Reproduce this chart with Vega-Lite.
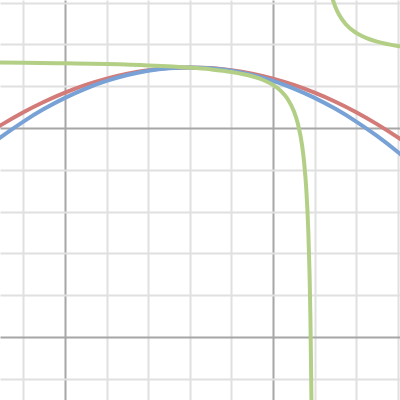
{
  "$schema": "https://vega.github.io/schema/vega-lite/v6.json",
  "autosize": {"type": "fit", "contains": "padding"},
  "width": 400,
  "height": 400,
  "padding": 0,
  "background": "white",
  "config": {"view": {"stroke": null}},
  "datasets": {
    "curves": [
      {"curve": "red", "branch": "a", "x": -2, "y": 4.775},
      {"curve": "red", "branch": "a", "x": -1.5, "y": 5.093},
      {"curve": "red", "branch": "a", "x": -1, "y": 5.378},
      {"curve": "red", "branch": "a", "x": -0.5, "y": 5.629},
      {"curve": "red", "branch": "a", "x": 0, "y": 5.847},
      {"curve": "red", "branch": "a", "x": 0.5, "y": 6.031},
      {"curve": "red", "branch": "a", "x": 1, "y": 6.182},
      {"curve": "red", "branch": "a", "x": 1.5, "y": 6.299},
      {"curve": "red", "branch": "a", "x": 2, "y": 6.383},
      {"curve": "red", "branch": "a", "x": 2.5, "y": 6.433},
      {"curve": "red", "branch": "a", "x": 3, "y": 6.45},
      {"curve": "red", "branch": "a", "x": 3.5, "y": 6.433},
      {"curve": "red", "branch": "a", "x": 4, "y": 6.383},
      {"curve": "red", "branch": "a", "x": 4.5, "y": 6.299},
      {"curve": "red", "branch": "a", "x": 5, "y": 6.182},
      {"curve": "red", "branch": "a", "x": 5.5, "y": 6.031},
      {"curve": "red", "branch": "a", "x": 6, "y": 5.847},
      {"curve": "red", "branch": "a", "x": 6.5, "y": 5.629},
      {"curve": "red", "branch": "a", "x": 7, "y": 5.378},
      {"curve": "red", "branch": "a", "x": 7.5, "y": 5.093},
      {"curve": "red", "branch": "a", "x": 8, "y": 4.775},
      {"curve": "red", "branch": "a", "x": 8.5, "y": 4.423},

      {"curve": "blue", "branch": "a", "x": -2, "y": 4.425},
      {"curve": "blue", "branch": "a", "x": -1.5, "y": 4.81},
      {"curve": "blue", "branch": "a", "x": -1, "y": 5.154},
      {"curve": "blue", "branch": "a", "x": -0.5, "y": 5.458},
      {"curve": "blue", "branch": "a", "x": 0, "y": 5.721},
      {"curve": "blue", "branch": "a", "x": 0.5, "y": 5.944},
      {"curve": "blue", "branch": "a", "x": 1, "y": 6.126},
      {"curve": "blue", "branch": "a", "x": 1.5, "y": 6.268},
      {"curve": "blue", "branch": "a", "x": 2, "y": 6.369},
      {"curve": "blue", "branch": "a", "x": 2.5, "y": 6.43},
      {"curve": "blue", "branch": "a", "x": 3, "y": 6.45},
      {"curve": "blue", "branch": "a", "x": 3.5, "y": 6.43},
      {"curve": "blue", "branch": "a", "x": 4, "y": 6.369},
      {"curve": "blue", "branch": "a", "x": 4.5, "y": 6.268},
      {"curve": "blue", "branch": "a", "x": 5, "y": 6.126},
      {"curve": "blue", "branch": "a", "x": 5.5, "y": 5.944},
      {"curve": "blue", "branch": "a", "x": 6, "y": 5.721},
      {"curve": "blue", "branch": "a", "x": 6.5, "y": 5.458},
      {"curve": "blue", "branch": "a", "x": 7, "y": 5.154},
      {"curve": "blue", "branch": "a", "x": 7.5, "y": 4.81},
      {"curve": "blue", "branch": "a", "x": 8, "y": 4.425},
      {"curve": "blue", "branch": "a", "x": 8.5, "y": 4.0},

      {"curve": "green", "branch": "left", "x": -2, "y": 6.574},
      {"curve": "green", "branch": "left", "x": -1, "y": 6.563},
      {"curve": "green", "branch": "left", "x": 0, "y": 6.548},
      {"curve": "green", "branch": "left", "x": 1, "y": 6.528},
      {"curve": "green", "branch": "left", "x": 2, "y": 6.497},
      {"curve": "green", "branch": "left", "x": 3, "y": 6.445},
      {"curve": "green", "branch": "left", "x": 3.5, "y": 6.403},
      {"curve": "green", "branch": "left", "x": 4, "y": 6.341},
      {"curve": "green", "branch": "left", "x": 4.5, "y": 6.237},
      {"curve": "green", "branch": "left", "x": 4.75, "y": 6.154},
      {"curve": "green", "branch": "left", "x": 5, "y": 6.03},
      {"curve": "green", "branch": "left", "x": 5.2, "y": 5.875},
      {"curve": "green", "branch": "left", "x": 5.35, "y": 5.695},
      {"curve": "green", "branch": "left", "x": 5.5, "y": 5.408},
      {"curve": "green", "branch": "left", "x": 5.6, "y": 5.097},
      {"curve": "green", "branch": "left", "x": 5.7, "y": 4.579},
      {"curve": "green", "branch": "left", "x": 5.75, "y": 4.164},
      {"curve": "green", "branch": "left", "x": 5.8, "y": 3.542},
      {"curve": "green", "branch": "left", "x": 5.85, "y": 2.505},
      {"curve": "green", "branch": "left", "x": 5.88, "y": 1.469},
      {"curve": "green", "branch": "left", "x": 5.9, "y": 0.432},
      {"curve": "green", "branch": "left", "x": 5.92, "y": -1.123},
      {"curve": "green", "branch": "left", "x": 5.93, "y": -2.234},

      {"curve": "green", "branch": "right", "x": 6.38, "y": 8.289},
      {"curve": "green", "branch": "right", "x": 6.4, "y": 8.207},
      {"curve": "green", "branch": "right", "x": 6.45, "y": 8.034},
      {"curve": "green", "branch": "right", "x": 6.5, "y": 7.896},
      {"curve": "green", "branch": "right", "x": 6.6, "y": 7.689},
      {"curve": "green", "branch": "right", "x": 6.75, "y": 7.481},
      {"curve": "green", "branch": "right", "x": 7, "y": 7.274},
      {"curve": "green", "branch": "right", "x": 7.25, "y": 7.15},
      {"curve": "green", "branch": "right", "x": 7.5, "y": 7.067},
      {"curve": "green", "branch": "right", "x": 8, "y": 6.963},
      {"curve": "green", "branch": "right", "x": 8.5, "y": 6.901}
    ]
  },
  "data": {"name": "curves"},
  "encoding": {
    "x": {
      "field": "x",
      "type": "quantitative",
      "scale": {"domain": [-1.5625, 8.053], "nice": false, "zero": false},
      "axis": {
        "values": [-1, 0, 1, 2, 3, 4, 5, 6, 7, 8],
        "labels": false,
        "ticks": false,
        "domain": false,
        "title": null,
        "gridWidth": 2,
        "gridColor": {"condition": {"test": "datum.value % 5 === 0", "value": "#a6a6a6"}, "value": "#e0e0e0"}
      }
    },
    "y": {
      "field": "y",
      "type": "quantitative",
      "scale": {"domain": [-1.507, 8.062], "nice": false, "zero": false},
      "axis": {
        "values": [-1, 0, 1, 2, 3, 4, 5, 6, 7, 8],
        "labels": false,
        "ticks": false,
        "domain": false,
        "title": null,
        "gridWidth": 2,
        "gridColor": {"condition": {"test": "datum.value % 5 === 0", "value": "#a6a6a6"}, "value": "#e0e0e0"}
      }
    }
  },
  "layer": [
    {
      "transform": [{"filter": "datum.curve === 'red'"}],
      "mark": {"type": "line", "clip": true, "interpolate": "monotone", "strokeWidth": 4, "color": "#d27b78", "strokeCap": "round"}
    },
    {
      "transform": [{"filter": "datum.curve === 'blue'"}],
      "mark": {"type": "line", "clip": true, "interpolate": "monotone", "strokeWidth": 4, "color": "#78a2d6", "strokeCap": "round"}
    },
    {
      "transform": [{"filter": "datum.curve === 'green'"}],
      "mark": {"type": "line", "clip": true, "interpolate": "monotone", "strokeWidth": 4, "color": "#b3cf86", "strokeCap": "round"},
      "encoding": {"detail": {"field": "branch", "type": "nominal"}}
    }
  ]
}
